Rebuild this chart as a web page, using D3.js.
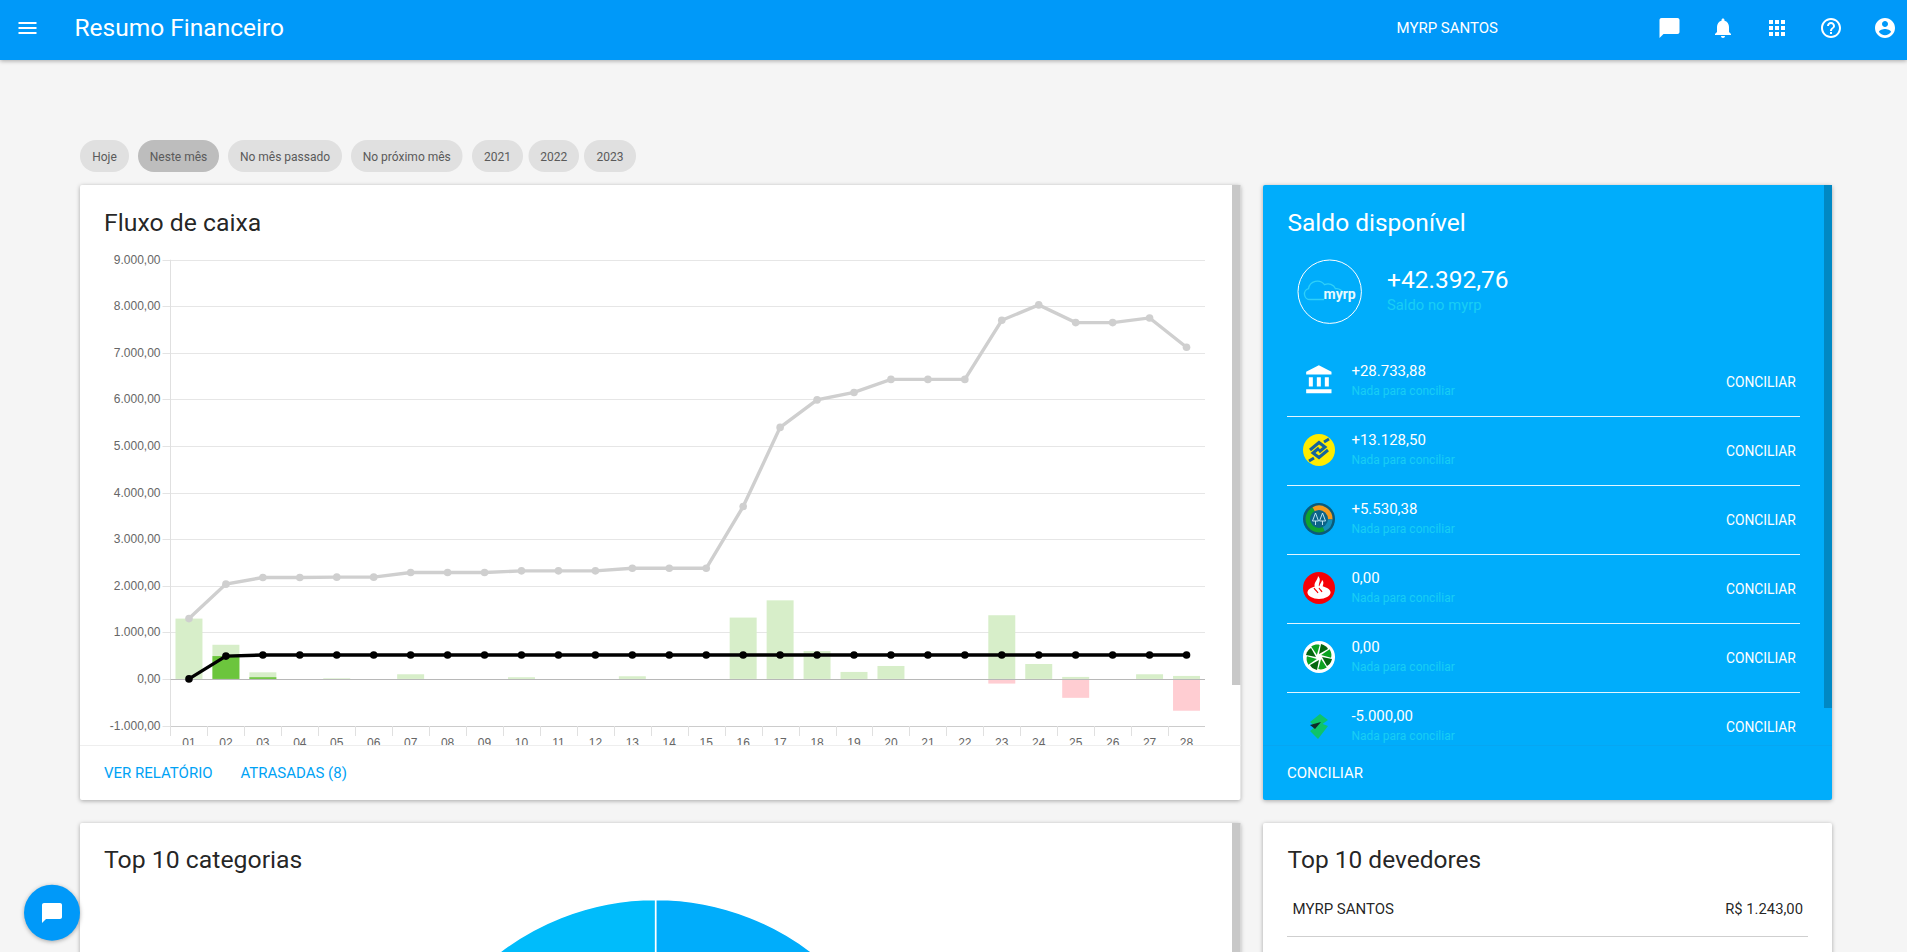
<!DOCTYPE html>
<html lang="pt-BR">
<head>
<meta charset="utf-8">
<title>Resumo Financeiro</title>
<script src="https://cdn.jsdelivr.net/npm/d3@7"></script>
<style>
html,body{margin:0;padding:0;background:#f5f5f5;overflow:hidden;width:1907px;height:952px}
svg{display:block;font-family:Roboto,sans-serif}
.shadow{filter:drop-shadow(0 1px 2px rgba(0,0,0,.32))}
.axis text{font-family:"Liberation Sans",Arial,sans-serif;font-size:12px;fill:#666}
.axis path{display:none}
</style>
</head>
<body>
<div id="app"></div>
<script>
// ---- chart data ----
const days = ["01","02","03","04","05","06","07","08","09","10","11","12","13","14","15","16","17","18","19","20","21","22","23","24","25","26","27","28"];
const forecastLine = [1295,2035,2178,2178,2185,2185,2285,2285,2285,2320,2320,2320,2375,2375,2375,3700,5400,5990,6150,6430,6430,6430,7700,8030,7650,7650,7750,7120];
const realizedLine = [0,490,512,512,512,512,512,512,512,512,512,512,512,512,512,512,512,512,512,512,512,512,512,512,512,512,512,512];
const expectedIn = [1295,733,142,0,14,0,100,0,0,36,0,0,57,0,0,1317,1687,598,150,278,0,0,1367,320,43,0,100,64];
const realizedIn = [0,490,36,0,0,0,0,0,0,0,0,0,0,0,0,0,0,0,0,0,0,0,0,0,0,0,0,0];
const expectedOut = [0,0,0,0,0,0,0,0,0,0,0,0,0,0,0,0,0,0,0,0,0,0,-100,0,-406,0,0,-683];
const yTicks = [-1000,0,1000,2000,3000,4000,5000,6000,7000,8000,9000];

const periodChips = ["Hoje","Neste mês","No mês passado","No próximo mês","2021","2022","2023"];
const activeChip = "Neste mês";
const accountBalances = [28733.88,13128.50,5530.38,0,0,-5000];
const totalBalance = 42392.76;
const categoryShares = [50,50];
const debtorNames = ["MYRP SANTOS"];
const debtorValues = [1243];

// ---- helpers ----
const W = 1907, H = 952;
const br = d3.formatLocale({decimal:",",thousands:".",grouping:[3],currency:["R$ ",""],minus:"-"});
const money = br.format(",.2f");
const signed = v => v === 0 ? money(v) : br.format("+,.2f")(v);
const icons = {
  menu:"M3 18h18v-2H3v2zm0-5h18v-2H3v2zm0-7v2h18V6H3z",
  chat:"M20 2H4c-1.1 0-2 .9-2 2v18l4-4h14c1.1 0 2-.9 2-2V4c0-1.1-.9-2-2-2z",
  bell:"M12 22c1.1 0 2-.9 2-2h-4c0 1.1.89 2 2 2zm6-6v-5c0-3.07-1.64-5.64-4.5-6.32V4c0-.83-.67-1.5-1.5-1.5s-1.5.67-1.5 1.5v.68C7.63 5.36 6 7.92 6 11v5l-2 2v1h16v-1l-2-2z",
  apps:"M4 8h4V4H4v4zm6 12h4v-4h-4v4zm-6 0h4v-4H4v4zm0-6h4v-4H4v4zm6 0h4v-4h-4v4zm6-10v4h4V4h-4zm-6 4h4V4h-4v4zm6 6h4v-4h-4v4zm0 6h4v-4h-4v4z",
  help:"M11 18h2v-2h-2v2zm1-16C6.48 2 2 6.48 2 12s4.48 10 10 10 10-4.48 10-10S17.52 2 12 2zm0 18c-4.41 0-8-3.59-8-8s3.59-8 8-8 8 3.59 8 8-3.59 8-8 8zm0-14c-2.21 0-4 1.79-4 4h2c0-1.1.9-2 2-2s2 .9 2 2c0 2-3 1.75-3 5h2c0-2.25 3-2.5 3-5 0-2.21-1.79-4-4-4z",
  user:"M12 2C6.48 2 2 6.48 2 12s4.48 10 10 10 10-4.48 10-10S17.52 2 12 2zm0 3c1.66 0 3 1.34 3 3s-1.34 3-3 3-3-1.34-3-3 1.34-3 3-3zm0 14.2c-2.5 0-4.71-1.28-6-3.22.03-1.99 4-3.08 6-3.08 1.99 0 5.97 1.09 6 3.08-1.29 1.94-3.5 3.22-6 3.22z",
  bank:"M4 10v7h3v-7H4zm6 0v7h3v-7h-3zM2 22h19v-3H2v3zm14-12v7h3v-7h-3zm-4.5-9L2 6v2h19V6l-9.5-5z"
};
const svg = d3.select("#app").append("svg").attr("width",W).attr("height",H).attr("viewBox",`0 0 ${W} ${H}`);
const defs = svg.append("defs");
defs.append("clipPath").attr("id","cashClip").append("rect").attr("x",80).attr("y",185).attr("width",1152).attr("height",560);
defs.append("clipPath").attr("id","saldoClip").append("rect").attr("x",1263).attr("y",185).attr("width",569).attr("height",560);
function txt(g,s,x,y,size,fill,opt={}){
  return g.append("text").attr("x",x).attr("y",y).attr("font-size",size).attr("fill",fill)
    .attr("font-weight",opt.weight||400).attr("text-anchor",opt.anchor||"start").text(s);
}
function icon(g,name,cx,cy,fill,scale=1){
  g.append("path").attr("d",icons[name]).attr("fill",fill)
    .attr("transform",`translate(${cx-12*scale},${cy-12*scale}) scale(${scale})`);
}
function card(x,y,w,h,fill){
  svg.append("rect").attr("class","shadow").attr("x",x).attr("y",y).attr("width",w).attr("height",h).attr("rx",2).attr("fill",fill);
}

// ---- app bar ----
svg.append("rect").attr("class","shadow").attr("width",W).attr("height",60).attr("fill","#0099f9");
icon(svg,"menu",27.5,28,"#fff");
txt(svg,"Resumo Financeiro",74.5,36,24.5,"#fff");
txt(svg,"MYRP SANTOS",1396.5,33,15,"#fff");
[["chat",1669.5],["bell",1723],["apps",1777],["help",1831],["user",1885]].forEach(([n,x])=>icon(svg,n,x,28,"#fff"));

// ---- period chips ----
const chipX = [80,138,228,351,472,528.5,584], chipW = [49,81,114,111.5,51,50.5,52];
const chips = svg.append("g").selectAll("g").data(periodChips).join("g").attr("transform",(d,i)=>`translate(${chipX[i]},140)`);
chips.append("rect").attr("width",(d,i)=>chipW[i]).attr("height",32).attr("rx",16)
  .attr("fill",d=>d===activeChip?"#bdbdbd":"#e0e0e0");
chips.append("text").attr("x",(d,i)=>chipW[i]/2).attr("y",20.5).attr("text-anchor","middle")
  .attr("font-size",12).attr("fill","#5a5a5a").text(d=>d);

// ---- cash-flow card ----
card(80,185,1160.5,615,"#fff");
txt(svg,"Fluxo de caixa",104,231,24.8,"rgba(0,0,0,.87)");
const cash = svg.append("g").attr("clip-path","url(#cashClip)");
const x = d3.scaleBand().domain(days).range([170.5,1205]);
const y = d3.scaleLinear().domain([-1000,9000]).range([725.5,259.7]);
const barW = x.bandwidth()*0.73;
const barX = d => x(d)+(x.bandwidth()-barW)/2;

// grid and y axis
const yAxis = cash.append("g").attr("class","axis").attr("transform","translate(170.5,0)")
  .call(d3.axisLeft(y).tickValues(yTicks).tickFormat(money).tickSize(8).tickPadding(2));
yAxis.selectAll("line").attr("stroke","#e3e3e3");
cash.append("g").selectAll("line").data(yTicks).join("line")
  .attr("x1",170.5).attr("x2",1205).attr("y1",d=>Math.round(y(d))+.5).attr("y2",d=>Math.round(y(d))+.5)
  .attr("stroke",d=>d===-1000?"#cccccc":"#e6e6e6");
yAxis.selectAll(".tick").attr("transform",d=>`translate(0,${Math.round(y(d))+.5})`);

// bars
const barGroup = cash.append("g");
const addBars = (vals,fill)=>barGroup.append("g").selectAll("rect")
  .data(days.map((d,i)=>({d,v:vals[i]})).filter(o=>o.v!==0)).join("rect")
  .attr("x",o=>barX(o.d)).attr("width",barW)
  .attr("y",o=>y(Math.max(o.v,0))).attr("height",o=>Math.abs(y(o.v)-y(0)))
  .attr("fill",fill);
addBars(expectedIn,"#d7eec9");
addBars(expectedOut,"#ffcdd2");
addBars(realizedIn,"#6cc53d");

// x axis
cash.append("line").attr("x1",170.5).attr("x2",170.5).attr("y1",259.7).attr("y2",736).attr("stroke","#e0e0e0");
cash.append("line").attr("x1",170.5).attr("x2",1205).attr("y1",Math.round(y(0))+.5).attr("y2",Math.round(y(0))+.5).attr("stroke","#b8b8b8");
cash.append("g").selectAll("line").data(days.slice(1)).join("line")
  .attr("x1",d=>Math.round(x(d))+.5).attr("x2",d=>Math.round(x(d))+.5).attr("y1",726).attr("y2",736).attr("stroke","#e0e0e0");
const xAxis = cash.append("g").attr("class","axis").attr("transform","translate(0,736)")
  .call(d3.axisBottom(x).tickSize(0).tickPadding(2));
xAxis.selectAll("text").attr("dy",0).attr("y",10.8);

// lines
const lineGen = d3.line().x((v,i)=>x(days[i])+x.bandwidth()/2).y(v=>y(v));
const addLine = (vals,color,r,sw)=>{
  cash.append("path").attr("d",lineGen(vals)).attr("fill","none").attr("stroke",color).attr("stroke-width",sw);
  cash.append("g").selectAll("circle").data(vals).join("circle")
    .attr("cx",(v,i)=>x(days[i])+x.bandwidth()/2).attr("cy",v=>y(v)).attr("r",r).attr("fill",color);
};
addLine(forecastLine,"#cfcfcf",3.8,3.4);
addLine(realizedLine,"#000",3.8,3.4);

// card footer and scrollbar
svg.append("rect").attr("x",80).attr("y",745).attr("width",1160.5).attr("height",1).attr("fill","#eeeeee");
svg.append("rect").attr("x",1232).attr("y",185).attr("width",8.5).attr("height",500).attr("fill","#c8c8c8");
txt(svg,"VER RELATÓRIO",104,778,15,"#00a2f5");
txt(svg,"ATRASADAS (8)",240.5,778,15,"#00a2f5");

// ---- balance card ----
card(1263,185,569,615,"#00adfb");
svg.append("rect").attr("x",1824).attr("y",185).attr("width",8).attr("height",523).attr("fill","#0088c4");
txt(svg,"Saldo disponível",1287.5,231,24.5,"#fff");
svg.append("circle").attr("cx",1329.7).attr("cy",291.7).attr("r",31.7).attr("fill","none").attr("stroke","#fff");
svg.append("path").attr("d","M1324 299.5 H1310 a5.5 5.5 0 0 1 -1.5 -10.8 a9 9 0 0 1 16 -4 a8 8 0 0 1 11 4 a7 7 0 0 1 8 6")
  .attr("fill","none").attr("stroke","#2fd0f8").attr("stroke-width",1.3);
txt(svg,"myrp",1323.5,299,14,"#e8faff",{weight:700});
txt(svg,signed(totalBalance),1387,288,24.5,"#fff");
txt(svg,"Saldo no myrp",1387,310,14.8,"#19cdf5");

const saldo = svg.append("g").attr("clip-path","url(#saldoClip)");
const rowsY = d3.scalePoint().domain(d3.range(accountBalances.length)).range([0,345]);
const rows = saldo.selectAll("g").data(accountBalances).join("g").attr("transform",(d,i)=>`translate(0,${rowsY(i)})`);
rows.append("text").attr("x",1351.4).attr("y",376).attr("font-size",15).attr("fill","#fff").text(signed);
rows.append("text").attr("x",1351.4).attr("y",395).attr("font-size",12).attr("fill","#19cdf5").text("Nada para conciliar");
rows.append("text").attr("x",1726).attr("y",387).attr("font-size",13.8).attr("fill","#fff").text("CONCILIAR");
rows.filter((d,i)=>i<accountBalances.length-1).append("rect").attr("x",1287).attr("y",416).attr("width",513).attr("height",1).attr("fill","#e2f5ff");

// account logos
const cx = 1319;
icon(saldo,"bank",cx+.5,379.8,"#fff",1.333);
// Banco do Brasil
const bb = saldo.append("g").attr("transform",`translate(${cx},450)`);
bb.append("circle").attr("r",16).attr("fill","#ffec00");
bb.append("path").attr("d","M-9 0 L0 -7.5 L6 -3 L0 2 M9 0 L0 7.5 L-6 3 L0 -2 M5 -8 L10 -11 M-5 8 L-10 11")
  .attr("fill","none").attr("stroke","#14639c").attr("stroke-width",3);
// Sicredi-style ring
const sc = saldo.append("g").attr("transform",`translate(${cx},519)`);
sc.append("circle").attr("r",16).attr("fill","#0b5a78");
const arc = d3.arc();
sc.append("path").attr("d",arc({innerRadius:8,outerRadius:13.5,startAngle:-3.6,endAngle:-.5})).attr("fill","#0fa32f");
sc.append("path").attr("d",arc({innerRadius:8,outerRadius:13.5,startAngle:-.5,endAngle:1.6})).attr("fill","#f39a1f");
sc.append("path").attr("d",arc({innerRadius:8,outerRadius:13.5,startAngle:1.6,endAngle:2.7})).attr("fill","#1590b8");
sc.append("circle").attr("r",9).attr("fill","#0b6488");
sc.append("path").attr("d","M-3.5 -6 L-6.5 2 L-0.5 2 Z M3.5 -6 L0.5 2 L6.5 2 Z M-3.5 2 V6 M3.5 2 V6").attr("fill","none").attr("stroke","#c9eefb").attr("stroke-width",.9);
// Santander
const st = saldo.append("g").attr("transform",`translate(${cx},588)`);
st.append("circle").attr("r",16).attr("fill","#f60006");
st.append("path").attr("d","M-4 -1 C-6 -5 -1 -8 -1 -12 C3 -8 -1 -5 0 -1 Z M1 0 C-1 -3 3 -5 3 -8 C6 -5 3 -3 4 0 Z").attr("fill","#fff");
st.append("ellipse").attr("cy",4.5).attr("rx",11.5).attr("ry",6.5).attr("fill","#fff");
st.append("path").attr("d","M-5 0 C-4 2 -2 3 -1 5 M0 0 C1 2 2 2 3 4").attr("fill","none").attr("stroke","#f60006").attr("stroke-width",1.1);
// Pinwheel
const pw = saldo.append("g").attr("transform",`translate(${cx},657)`);
pw.append("circle").attr("r",16).attr("fill","#fff");
pw.selectAll("path").data(d3.range(8)).join("path")
  .attr("d","M0 -3 L2 -13 C6 -12 8 -10 9 -8 Z").attr("fill",d=>d%2?"#0ca321":"#05650f")
  .attr("transform",d=>`rotate(${d*45})`);
// Lightning
const lg = saldo.append("g").attr("transform",`translate(${cx},726)`);
lg.append("path").attr("d","M1 -12 L9 -6 L-2 2 L-9 -4 Z M1 -3 L9 0 L-1 13 L-9 5 Z").attr("fill","#0ec46a");
lg.append("path").attr("d","M-9 -1 L2 -4 L-4 3 Z").attr("fill","#102a2a");

svg.append("rect").attr("x",1263).attr("y",745).attr("width",569).attr("height",1).attr("fill","#06a6f2");
txt(svg,"CONCILIAR",1287,778,15,"#fff");

// ---- top 10 categorias ----
card(80,823,1160.5,200,"#fff");
txt(svg,"Top 10 categorias",104,868,24.8,"rgba(0,0,0,.87)");
const pieColors = ["#00adfb","#00bcfb"];
const pieArc = d3.arc().innerRadius(0).outerRadius(257);
svg.append("g").attr("transform","translate(655.6,1156.5)")
  .selectAll("path").data(d3.pie().sort(null)(categoryShares)).join("path")
  .attr("d",pieArc).attr("fill",(d,i)=>pieColors[i]).attr("stroke","#fff").attr("stroke-width",1.5);
svg.append("rect").attr("x",1232).attr("y",823).attr("width",8.5).attr("height",129).attr("fill","#c8c8c8");

// ---- top 10 devedores ----
card(1263,823,569,200,"#fff");
txt(svg,"Top 10 devedores",1287.5,868,24.5,"rgba(0,0,0,.87)");
const debt = svg.append("g").selectAll("g").data(debtorNames).join("g");
debt.append("text").attr("x",1292.5).attr("y",914).attr("font-size",15).attr("fill","rgba(0,0,0,.87)").text(d=>d);
debt.append("text").attr("x",1803).attr("y",914).attr("font-size",14.8).attr("text-anchor","end").attr("fill","rgba(0,0,0,.87)")
  .text((d,i)=>"R$ "+money(debtorValues[i]));
debt.append("rect").attr("x",1287).attr("y",936).attr("width",521).attr("height",1).attr("fill","#cfcfcf");

// ---- chat button ----
svg.append("circle").attr("class","shadow").attr("cx",52).attr("cy",912.7).attr("r",28).attr("fill","#0099f9");
icon(svg,"chat",52,913,"#fff");
</script>
</body>
</html>
